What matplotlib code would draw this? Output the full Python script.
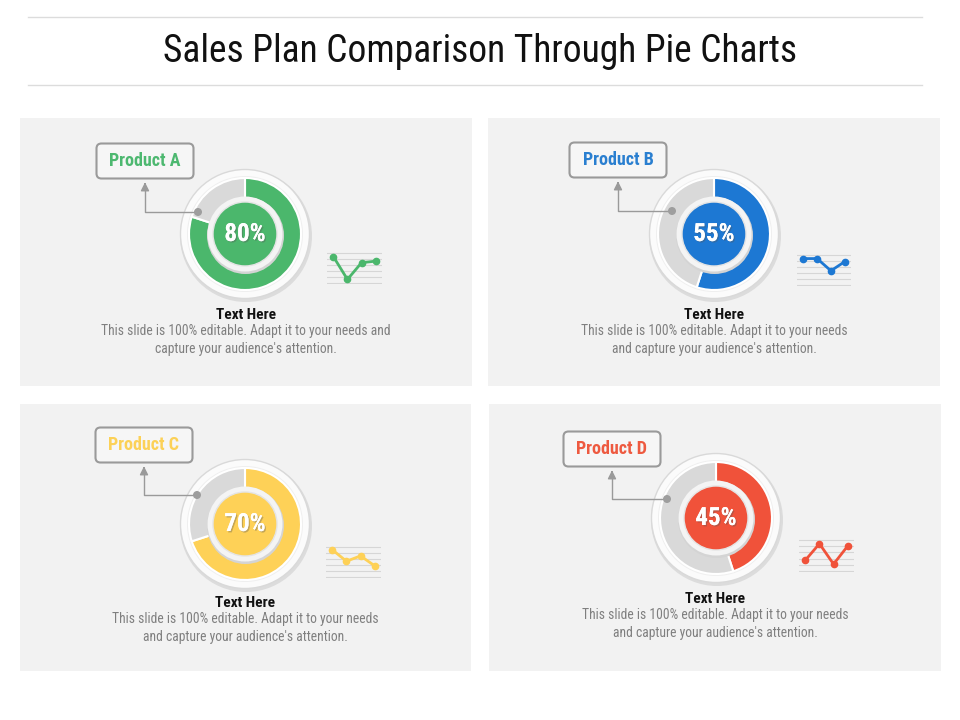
import matplotlib
matplotlib.use('Agg')
import matplotlib.pyplot as plt
import matplotlib.patheffects as pe
from matplotlib import font_manager
from matplotlib.patches import Rectangle, Circle, FancyBboxPatch

names = {f.name for f in font_manager.fontManager.ttflist}
narrow = 'Liberation Sans'
for cand in ['Liberation Sans Narrow', 'Roboto Condensed', 'Arial Narrow']:
    if cand in names:
        narrow = cand
        break
plt.rcParams['font.family'] = [narrow, 'DejaVu Sans']

# data
products = ['Product A', 'Product B', 'Product C', 'Product D']
shares = [80, 55, 70, 45]
main_colors = ['#4bb76c', '#1d78d3', '#fed157', '#f0523a']
label_colors = ['#4db870', '#2a7fd0', '#fcd157', '#ee5a40']
spark_values = [
    [3.5, 0.5, 2.7, 2.9],
    [3.5, 3.5, 1.9, 3.1],
    [3.6, 2.1, 2.8, 1.5],
    [1.4, 3.5, 0.9, 3.2],
]
title = 'Sales Plan Comparison Through Pie Charts'
head = 'Text Here'
desc = ["This slide is 100% editable. Adapt it to your needs and\ncapture your audience's attention.",
        "This slide is 100% editable. Adapt it to your needs\nand capture your audience's attention.",
        "This slide is 100% editable. Adapt it to your needs\nand capture your audience's attention.",
        "This slide is 100% editable. Adapt it to your needs\nand capture your audience's attention."]

# layout (pixel coords, y from top)
panels = [(20, 118, 472, 386), (488, 118, 940, 386), (20, 404, 471, 671), (489, 404, 941, 671)]
centers = [(245, 234), (714, 234), (245, 524), (716, 518)]
boxes = [(145, 161), (618, 160), (144, 445), (612, 449)]
dots = [(198, 212), (672, 211), (197, 495), (667, 499)]
texts = [(246, 315), (714, 315), (245, 603), (715, 599)]
sparks = [(327, 252, 382, 284), (797, 254, 851, 286), (326, 546, 381, 578), (799, 539, 854, 572)]

W, H = 960, 720
def Y(y):
    return H - y

fig = plt.figure(figsize=(9.6, 7.2), dpi=100)
ax = fig.add_axes([0, 0, 1, 1])

# title + rules
ax.plot([28, 922], [Y(17), Y(17)], color='#dcdcdc', lw=1)
ax.plot([28, 922], [Y(85), Y(85)], color='#dcdcdc', lw=1)
ax.text(480, Y(51), title, ha='center', va='center', fontsize=27, color='#111111')

for i in range(4):
    x0, y0, x1, y1 = panels[i]
    ax.add_patch(Rectangle((x0, Y(y1)), x1 - x0, y1 - y0, facecolor='#f2f2f2', edgecolor='none', zorder=1))

    cx, cy = centers[i]
    cy = Y(cy)
    # outer plate with soft rim
    ax.add_patch(Circle((cx + 1, cy - 2), 66, facecolor='#dcdcdc', edgecolor='none', zorder=2))
    ax.add_patch(Circle((cx, cy), 64.5, facecolor='#fbfbfb', edgecolor='#d9d9d9', lw=1, zorder=3))
    ax.add_patch(Circle((cx, cy), 58, facecolor='#efefef', edgecolor='none', zorder=3))

    ax.pie([shares[i], 100 - shares[i]], colors=[main_colors[i], '#d9d9d9'],
           startangle=90, counterclock=False, center=(cx, cy), radius=56,
           wedgeprops=dict(width=21, edgecolor='white', linewidth=1.5, zorder=4))
    for w in ax.patches[-2:]:
        w.set_zorder(4)

    ax.add_patch(Circle((cx + 0.5, cy - 1.5), 38.5, facecolor='#d4d4d4', edgecolor='none', zorder=5))
    ax.add_patch(Circle((cx, cy), 37.5, facecolor='#f4f4f4', edgecolor='none', zorder=5))
    ax.add_patch(Circle((cx, cy), 32, facecolor=main_colors[i], edgecolor='#e4e4e4', lw=1, zorder=6))
    ax.text(cx, cy, f'{shares[i]}%', ha='center', va='center', fontsize=18, fontweight='bold',
            color='white', zorder=7,
            path_effects=[pe.withSimplePatchShadow(offset=(1, -1), shadow_rgbFace='#555555', alpha=0.35), pe.Normal()])

    # label box and connector
    bx, by = boxes[i]
    ax.add_patch(FancyBboxPatch((bx - 45.5, Y(by) - 14.5), 91, 29, boxstyle='round,pad=3,rounding_size=5',
                                facecolor='#f6f6f6', edgecolor='#9a9a9a', lw=1.5, zorder=3))
    ax.text(bx, Y(by), products[i], ha='center', va='center', fontsize=13, fontweight='bold',
            color=label_colors[i], zorder=4)
    dx, dy = dots[i]
    ax.plot([dx, bx, bx], [Y(dy), Y(dy), Y(by) - 25], color='#9a9a9a', lw=1, zorder=8)
    ax.annotate('', xy=(bx, Y(by) - 18.5), xytext=(bx, Y(by) - 27),
                arrowprops=dict(arrowstyle='-|>,head_width=0.25,head_length=0.5', color='#9a9a9a', lw=1), zorder=8)
    ax.add_patch(Circle((dx, Y(dy)), 4, facecolor='#9e9e9e', edgecolor='none', zorder=9))

    # captions
    tx, ty = texts[i]
    ax.text(tx, Y(ty), head, ha='center', va='center', fontsize=11, fontweight='bold', color='#111111', zorder=4)
    ax.text(tx, Y(ty + 25), desc[i], ha='center', va='center', fontsize=9.8, color='#7f7f7f',
            linespacing=1.3, zorder=4)

ax.set_xlim(0, W)
ax.set_ylim(0, H)
ax.set_aspect('auto')
ax.axis('off')

# sparklines
for i in range(4):
    l, t, r, b = sparks[i]
    sax = fig.add_axes([l / W, (H - b) / H, (r - l) / W, (b - t) / H])
    sax.patch.set_alpha(0)
    for g in [0, 0.8, 1.6, 2.4, 3.2, 4.0]:
        sax.axhline(g, color='#d6d6d6', lw=0.8)
    sax.plot(range(len(spark_values[i])), spark_values[i], color=main_colors[i], lw=2,
             marker='o', markersize=4.5)
    sax.set_xlim(-0.45, 3.45)
    sax.set_ylim(-0.1, 4.1)
    sax.axis('off')

fig.savefig('out.png', dpi=100)
